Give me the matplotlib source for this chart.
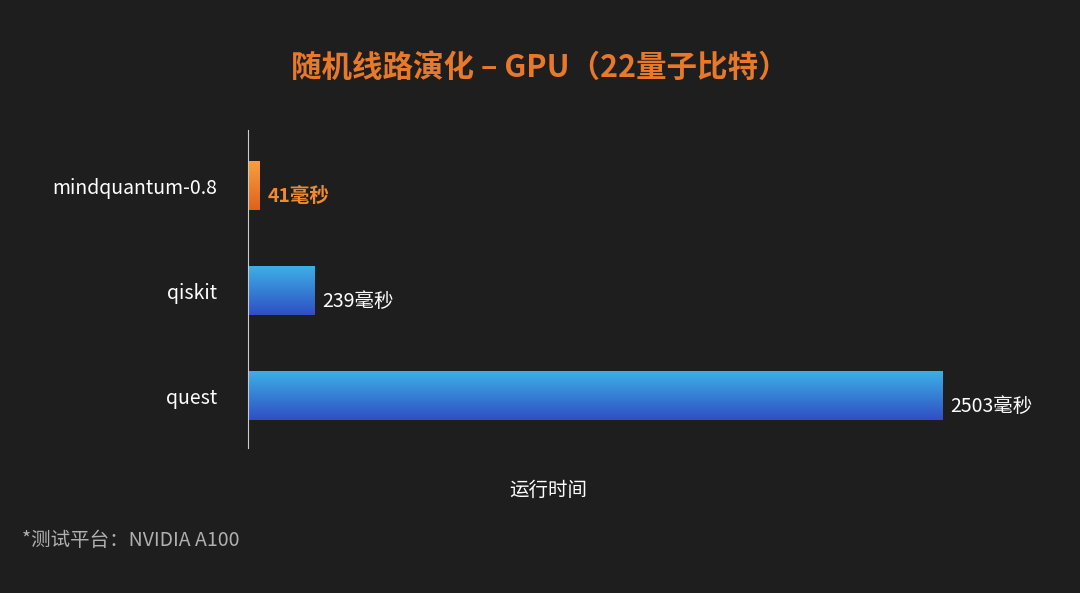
import matplotlib
matplotlib.use("Agg")
import matplotlib.pyplot as plt
import numpy as np
from matplotlib.colors import LinearSegmentedColormap

plt.rcParams['font.family'] = ['Noto Sans CJK SC', 'DejaVu Sans']

frameworks = ["mindquantum-0.8", "qiskit", "quest"]
times_ms = [41, 239, 2503]
value_labels = ["41毫秒", "239毫秒", "2503毫秒"]

bg = "#1e1e1e"
fig = plt.figure(figsize=(10.8, 5.93), dpi=100, facecolor=bg)
ax = fig.add_axes([248/1080, 1-448/593, 752/1080, 318/593], facecolor=bg)

ypos = [2, 1, 0]
h = 0.46
orange = LinearSegmentedColormap.from_list("o", ["#f7a040", "#e0621a"])
blue = LinearSegmentedColormap.from_list("b", ["#3cb0e6", "#2f4fc4"])
grad = np.linspace(0, 1, 100).reshape(-1, 1)
bars = ax.barh(ypos, times_ms, height=h, color="none")
for i, b in enumerate(bars):
    x0, y0, w, hh = b.get_x(), b.get_y(), b.get_width(), b.get_height()
    cmap = orange if i == 0 else blue
    ax.imshow(grad, cmap=cmap, aspect="auto", extent=(x0, x0 + w, y0, y0 + hh), origin="upper", zorder=2)
    col = "#f08a30" if i == 0 else "white"
    ax.text(x0 + w + 30, ypos[i] - 0.1, value_labels[i], color=col, fontsize=14,
            fontweight="bold" if i == 0 else "normal", va="center", ha="left")

ax.set_xlim(0, 752 / 0.2773)
ax.set_ylim(-0.5, 2.53)
ax.set_yticks(ypos)
ax.set_yticklabels(frameworks, color="white", fontsize=14)
ax.tick_params(axis="y", length=0, pad=22)
ax.set_xticks([])
for s in ["top", "right", "bottom"]:
    ax.spines[s].set_visible(False)
ax.spines["left"].set_color("#cccccc")

fig.text(0.5, 1-68/593, "随机线路演化 – GPU（22量子比特）", color="#e8782a", fontsize=22,
         fontweight="bold", ha="center", va="center")
fig.text(548/1080, 1-490/593, "运行时间", color="white", fontsize=14, ha="center", va="center")
fig.text(22/1080, 1-540/593, "*测试平台：NVIDIA A100", color="#b0b0b0", fontsize=14, ha="left", va="center")

fig.savefig("out.png", dpi=100, facecolor=bg)
